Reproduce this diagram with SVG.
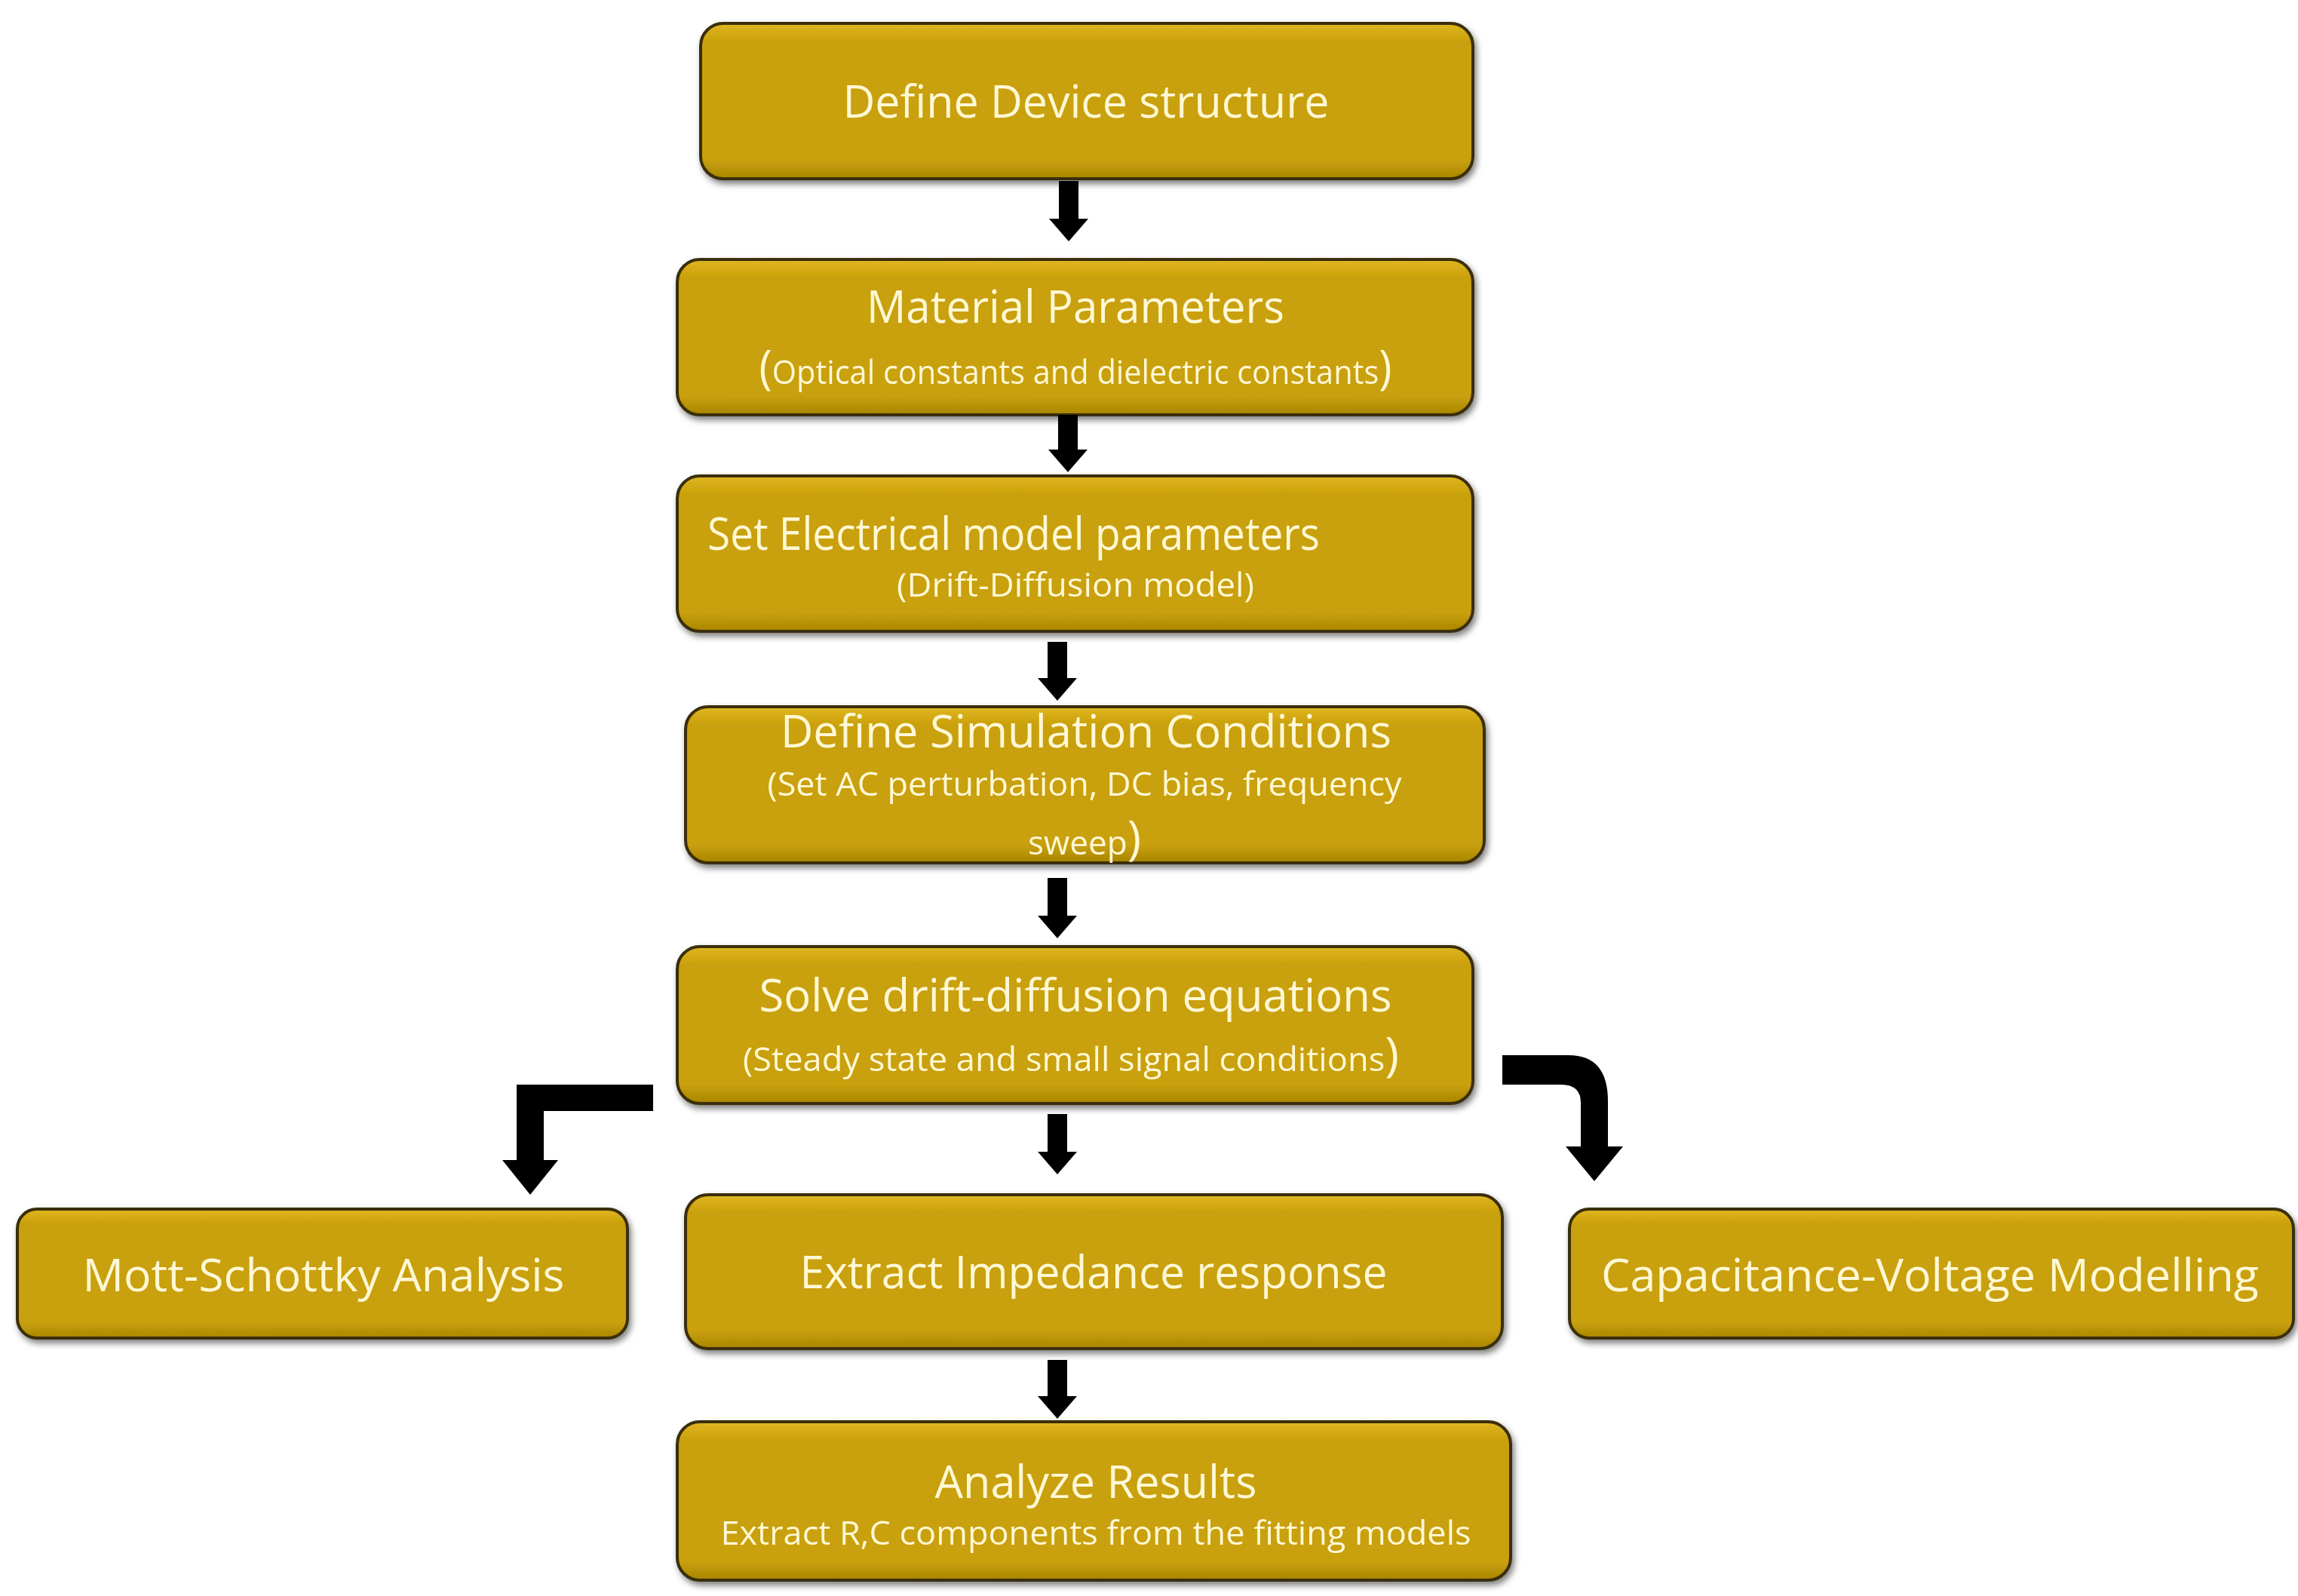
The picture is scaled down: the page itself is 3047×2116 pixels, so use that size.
<svg xmlns="http://www.w3.org/2000/svg" width="3047" height="2116" viewBox="0 0 3047 2116">
<style>
.box{fill:url(#g);stroke:#3a2e08;stroke-width:4}
.t{font-family:"Open Sans","Noto Sans",sans-serif;fill:#fff8d6;text-anchor:middle;font-size:60px}
.s{font-size:44px}
.a{fill:#000}
</style>
<defs>
<linearGradient id="g" x1="0" y1="0" x2="0" y2="1">
<stop offset="0" stop-color="#e0b722"/><stop offset="0.12" stop-color="#c9a008"/><stop offset="0.88" stop-color="#c9a008"/><stop offset="1" stop-color="#a88505"/>
</linearGradient>
<filter id="sh" x="-5%" y="-10%" width="110%" height="125%"><feDropShadow dx="3" dy="5" stdDeviation="4" flood-color="#000" flood-opacity="0.5"/></filter>
</defs>
<rect width="3047" height="2116" fill="#fff"/>
<g id="n1" filter="url(#sh)"><rect class="box" x="929" y="31" width="1024" height="206" rx="30"/><text class="t" x="1440" y="156" textLength="645" lengthAdjust="spacingAndGlyphs">Define Device structure</text></g>
<g id="n2" filter="url(#sh)"><rect class="box" x="898" y="344" width="1055" height="206" rx="30"/><text class="t" x="1426" y="428" textLength="554" lengthAdjust="spacingAndGlyphs">Material Parameters</text><text class="t s" x="1426" y="509" textLength="839" lengthAdjust="spacingAndGlyphs"><tspan font-size="62">(</tspan>Optical constants and dielectric constants<tspan font-size="62">)</tspan></text></g>
<g id="n3" filter="url(#sh)"><rect class="box" x="898" y="631" width="1055" height="206" rx="30"/><text class="t" x="938" y="729" text-anchor="start" style="text-anchor:start" textLength="812" lengthAdjust="spacingAndGlyphs">Set Electrical model parameters</text><text class="t s" x="1426" y="791" textLength="474" lengthAdjust="spacingAndGlyphs">(Drift-Diffusion model)</text></g>
<g id="n4" filter="url(#sh)"><rect class="box" x="909" y="937" width="1059" height="207" rx="30"/><text class="t" x="1440" y="991" textLength="810" lengthAdjust="spacingAndGlyphs">Define Simulation Conditions</text><text class="t s" x="1438" y="1055" textLength="841" lengthAdjust="spacingAndGlyphs">(Set AC perturbation, DC bias, frequency</text><text class="t s" x="1438" y="1133" textLength="150" lengthAdjust="spacingAndGlyphs">sweep<tspan font-size="62">)</tspan></text></g>
<g id="n5" filter="url(#sh)"><rect class="box" x="898" y="1255" width="1055" height="208" rx="30"/><text class="t" x="1426" y="1341" textLength="839" lengthAdjust="spacingAndGlyphs">Solve drift-diffusion equations</text><text class="t s" x="1420" y="1420" textLength="870" lengthAdjust="spacingAndGlyphs">(Steady state and small signal conditions<tspan font-size="62">)</tspan></text></g>
<g id="n6" filter="url(#sh)"><rect class="box" x="23" y="1603" width="809" height="171" rx="26"/><text class="t" x="429" y="1712" textLength="639" lengthAdjust="spacingAndGlyphs">Mott-Schottky Analysis</text></g>
<g id="n7" filter="url(#sh)"><rect class="box" x="909" y="1584" width="1083" height="204" rx="30"/><text class="t" x="1450" y="1708" textLength="779" lengthAdjust="spacingAndGlyphs">Extract Impedance response</text></g>
<g id="n8" filter="url(#sh)"><rect class="box" x="2081" y="1603" width="960" height="171" rx="26"/><text class="t" x="2559" y="1712" textLength="872" lengthAdjust="spacingAndGlyphs">Capacitance-Voltage Modelling</text></g>
<g id="n9" filter="url(#sh)"><rect class="box" x="898" y="1885" width="1105" height="210" rx="30"/><text class="t" x="1453" y="1986" textLength="427" lengthAdjust="spacingAndGlyphs">Analyze Results</text><text class="t s" x="1453" y="2048" textLength="995" lengthAdjust="spacingAndGlyphs">Extract R,C components from the fitting models</text></g>
<g id="connectors">
<path class="a" d="M1404 240H1430V290H1443L1417 320L1391 290H1404Z"/>
<path class="a" d="M1403 550H1429V596H1442L1416 626L1390 596H1403Z"/>
<path class="a" d="M1389 851H1415V899H1428L1402 929L1376 899H1389Z"/>
<path class="a" d="M1389 1164H1415V1214H1428L1402 1244L1376 1214H1389Z"/>
<path class="a" d="M1389 1477H1415V1527H1428L1402 1557L1376 1527H1389Z"/>
<path class="a" d="M1389 1803H1415V1851H1428L1402 1881L1376 1851H1389Z"/>
<path class="a" d="M866 1438V1473H721V1538H740L703 1584L666 1538H685V1438Z"/>
<path class="a" d="M1992 1399H2080Q2132 1399 2132 1460V1520H2152L2114 1566L2076 1520H2096V1462Q2096 1438 2070 1438H1992Z"/>
</g>
</svg>
